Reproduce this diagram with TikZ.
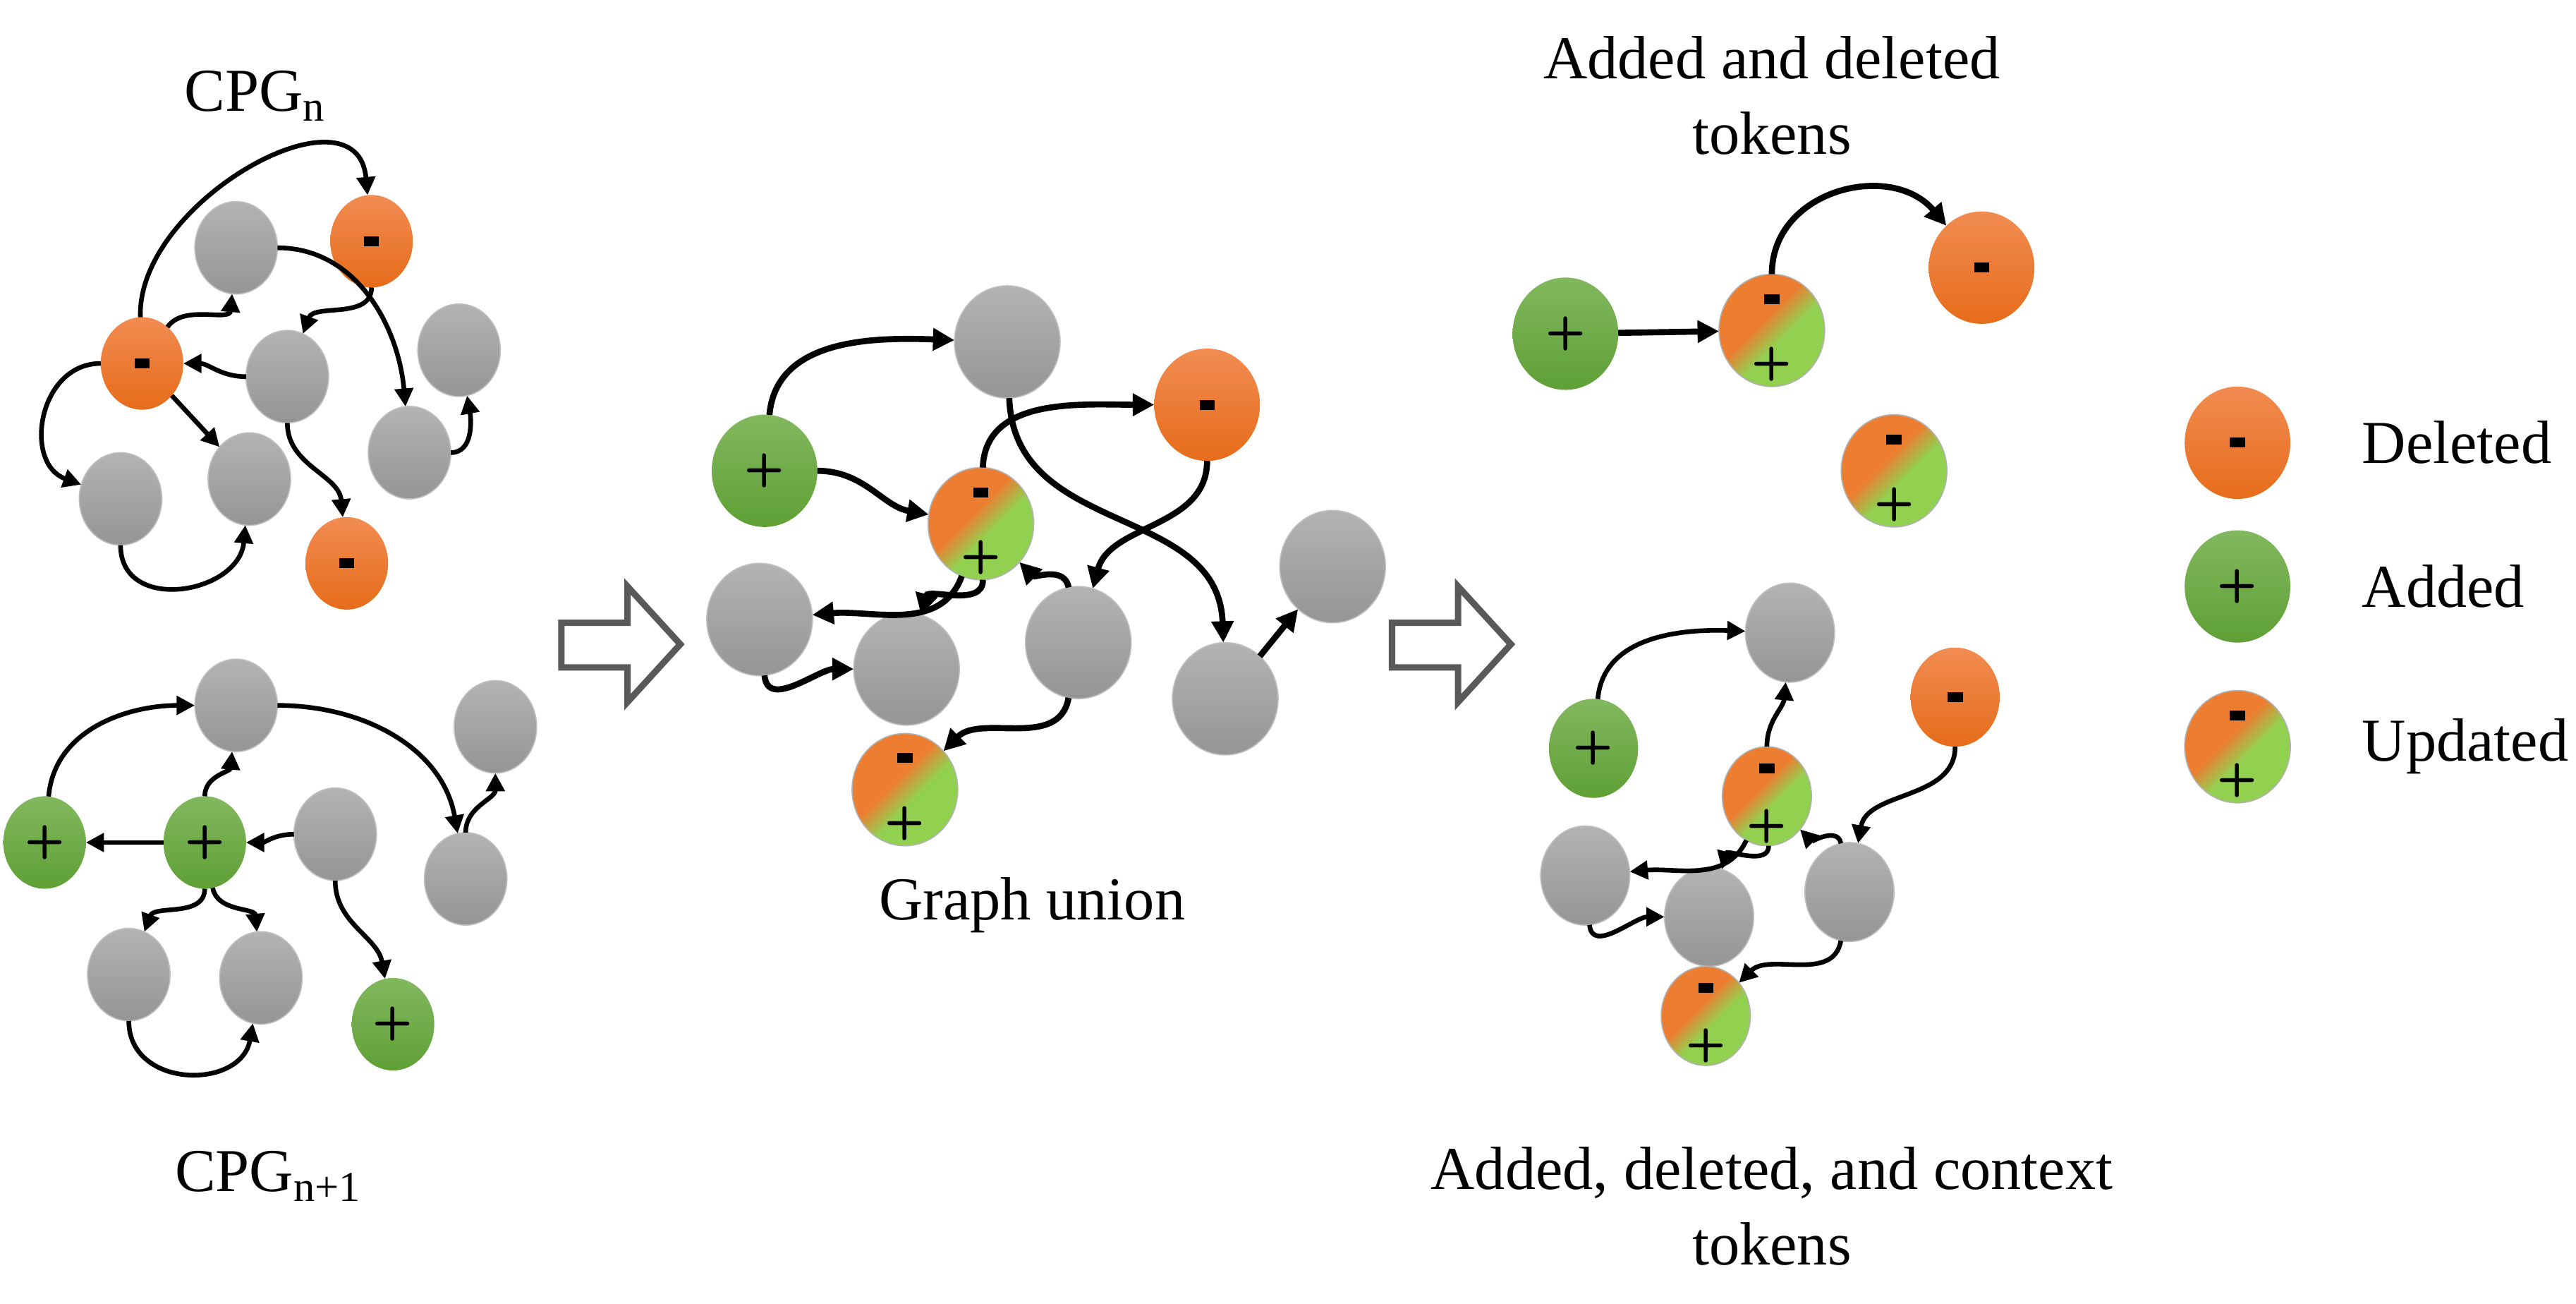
\documentclass[tikz,border=0pt]{standalone}
\usepackage{fontspec}
\setmainfont{Liberation Serif}
\usetikzlibrary{shapes.geometric,arrows.meta,calc}
\definecolor{gtop}{HTML}{B3B3B3}\definecolor{gbot}{HTML}{959595}
\definecolor{otop}{HTML}{F18C52}\definecolor{obot}{HTML}{E66C1A}
\definecolor{ntop}{HTML}{82B85E}\definecolor{nbot}{HTML}{5FA036}
\definecolor{uor}{HTML}{ED7D31}\definecolor{ugr}{HTML}{92D050}
\definecolor{harrow}{HTML}{595959}
\pgfdeclarehorizontalshading{updsh}{100bp}{color(0bp)=(uor); color(44bp)=(uor); color(56bp)=(ugr); color(100bp)=(ugr)}
\newcommand{\mns}{\rule{2.6pt}{1.7pt}}
\newcommand{\pls}{{\fontsize{8}{8}\selectfont\bfseries\sffamily +}}
\tikzset{
  x=0.1mm,y=0.1mm,
  nd/.style={ellipse,inner sep=0pt,outer sep=0pt},
  sa/.style={minimum width=5mm,minimum height=5.6mm},
  sb/.style={minimum width=6.4mm,minimum height=6.8mm},
  sc/.style={minimum width=5.4mm,minimum height=6mm},
  grn/.style={nd,draw=gray!50,line width=0.2pt,top color=gtop,bottom color=gbot},
  ord/.style={nd,top color=otop,bottom color=obot},
  adn/.style={nd,top color=ntop,bottom color=nbot},
  upn/.style={nd,draw=gray!60,line width=0.2pt,shading=updsh,shading angle=-45,
    path picture={
      \node at ($(path picture bounding box.north)!0.22!(path picture bounding box.south)$) {\mns};
      \node at ($(path picture bounding box.north)!0.8!(path picture bounding box.south)$) {\pls};}},
  ed/.style={-{Triangle[length=1.1mm,width=1.1mm]},line width=0.8pt},
  edb/.style={-{Triangle[length=1.3mm,width=1.3mm]},line width=1.05pt},
  bigarr/.style={draw=harrow,line width=1.1pt,fill=white},
  ttl/.style={font=\fontsize{10.5}{13}\selectfont,align=center}
}
\begin{document}
\begin{tikzpicture}
\useasboundingbox (0,0) rectangle (1560,-789);
% ---------- CPG_n
\node[ttl] (t1) at (155,-58) {CPG\textsubscript{n}};
\node[ord,sa] (o1) at (225,-146) {\mns};
\node[grn,sa] (g1) at (143,-150) {};
\node[ord,sa] (o2) at (86,-220) {\mns};
\node[grn,sa] (g2) at (174,-228) {};
\node[grn,sa] (g3) at (278,-212) {};
\node[grn,sa] (g4) at (248,-274) {};
\node[grn,sa] (g5) at (73,-302) {};
\node[grn,sa] (g6) at (151,-290) {};
\node[ord,sa] (o3) at (210,-341) {\mns};
\draw[ed] (o2) to[out=92,in=95,looseness=1.15] (o1);
\draw[ed] (o2) to[out=55,in=-95] (g1);
\draw[ed] (g2) to[out=180,in=0] (o2);
\draw[ed] (o2) -- (g6);
\draw[ed] (o2) to[out=180,in=160,looseness=1.3] (g5);
\draw[ed] (g5) to[out=-90,in=-95,looseness=1.4] (g6);
\draw[ed] (g1) to[out=0,in=95] (g4);
\draw[ed] (o1) to[out=-90,in=70] (g2);
\draw[ed] (g2) to[out=-90,in=95] (o3);
\draw[ed] (g4) to[out=0,in=-80] (g3);
% ---------- CPG_{n+1}
\node[ttl] (t2) at (163,-712) {CPG\textsubscript{n+1}};
\node[adn,sa] (a1) at (27,-510) {\pls};
\node[adn,sa] (a2) at (124,-510) {\pls};
\node[grn,sa] (b1) at (143,-427) {};
\node[grn,sa] (b2) at (203,-505) {};
\node[grn,sa] (b3) at (300,-440) {};
\node[grn,sa] (b4) at (282,-532) {};
\node[grn,sa] (b5) at (78,-590) {};
\node[grn,sa] (b6) at (158,-592) {};
\node[adn,sa] (a3) at (238,-620) {\pls};
\draw[ed] (a1) to[out=85,in=180] (b1);
\draw[ed] (a2) -- (a1);
\draw[ed] (a2) to[out=90,in=-95] (b1);
\draw[ed] (b2) to[out=180,in=0] (a2);
\draw[ed] (a2) to[out=-90,in=70] (b5);
\draw[ed] (a2) to[out=-80,in=95] (b6);
\draw[ed] (b5) to[out=-90,in=-100,looseness=1.4] (b6);
\draw[ed] (b2) to[out=-90,in=100] (a3);
\draw[ed] (b1) to[out=0,in=100] (b4);
\draw[ed] (b4) to[out=90,in=-90] (b3);
% ---------- hollow arrows
\draw[bigarr] (340,-377) -- (380,-377) -- (380,-355) -- (412,-390) -- (380,-425) -- (380,-404) -- (340,-404) -- cycle;
\draw[bigarr] (843,-377) -- (883,-377) -- (883,-355) -- (915,-390) -- (883,-425) -- (883,-404) -- (843,-404) -- cycle;
% ---------- Graph union
\node[ttl] (t3) at (625,-548) {Graph union};
\node[adn,sb] (m1) at (463,-285) {\pls};
\node[grn,sb] (m2) at (610,-207) {};
\node[ord,sb] (m3) at (731,-245) {\mns};
\node[upn,sb] (m4) at (594,-317) {};
\node[grn,sb] (m5) at (460,-375) {};
\node[grn,sb] (m6) at (549,-405) {};
\node[grn,sb] (m7) at (653,-389) {};
\node[upn,sb] (m8) at (548,-478) {};
\node[grn,sb] (m9) at (742,-423) {};
\node[grn,sb] (m10) at (807,-343) {};
\draw[edb] (m1) to[out=85,in=178] (m2);
\draw[edb] (m1) to[out=0,in=170] (m4);
\draw[edb] (m4) to[out=88,in=180] (m3);
\draw[edb] (m2) to[out=-88,in=92,looseness=1.1] (m9);
\draw[edb] (m3) to[out=-90,in=75] (m7);
\draw[edb] (m4) to[out=-110,in=5] (m5);
\draw[edb] (m4) to[out=-88,in=75] (m6);
\draw[edb] (m7) to[out=100,in=-45] (m4);
\draw[edb] (m5) to[out=-85,in=180] (m6);
\draw[edb] (m7) to[out=-100,in=45] (m8);
\draw[edb] (m9) -- (m10);
% ---------- Added and deleted tokens
\node[ttl] (t4) at (1073,-58) {Added and deleted\\tokens};
\node[adn,sb] (r1) at (948,-202) {\pls};
\node[upn,sb] (r2) at (1073,-200) {};
\node[ord,sb] (r3) at (1200,-162) {\mns};
\node[upn,sb] (r4) at (1147,-285) {};
\draw[edb] (r1) -- (r2);
\draw[edb] (r2) to[out=90,in=130,looseness=1.2] (r3);
% ---------- Added, deleted, and context tokens
\node[ttl] (t5) at (1073,-730) {Added, deleted, and context\\tokens};
\node[adn,sc] (c1) at (965,-453) {\pls};
\node[grn,sc] (c2) at (1084,-383) {};
\node[ord,sc] (c3) at (1184,-422) {\mns};
\node[upn,sc] (c4) at (1070,-482) {};
\node[grn,sc] (c5) at (960,-530) {};
\node[grn,sc] (c6) at (1035,-555) {};
\node[grn,sc] (c7) at (1120,-540) {};
\node[upn,sc] (c8) at (1033,-615) {};
\draw[ed] (c1) to[out=85,in=178] (c2);
\draw[ed] (c4) to[out=90,in=-95] (c2);
\draw[ed] (c3) to[out=-90,in=80] (c7);
\draw[ed] (c4) to[out=-115,in=5] (c5);
\draw[ed] (c4) to[out=-88,in=75] (c6);
\draw[ed] (c7) to[out=100,in=-45] (c4);
\draw[ed] (c5) to[out=-85,in=180] (c6);
\draw[ed] (c7) to[out=-100,in=45] (c8);
% ---------- legend
\node[ord,sb] (l1) at (1355,-268) {\mns};
\node[adn,sb] (l2) at (1355,-355) {\pls};
\node[upn,sb] (l3) at (1355,-452) {};
\node[ttl,anchor=west] (lt1) at (1418,-268) {Deleted};
\node[ttl,anchor=west] (lt2) at (1418,-355) {Added};
\node[ttl,anchor=west] (lt3) at (1418,-452) {Updated};
\end{tikzpicture}
\end{document}
